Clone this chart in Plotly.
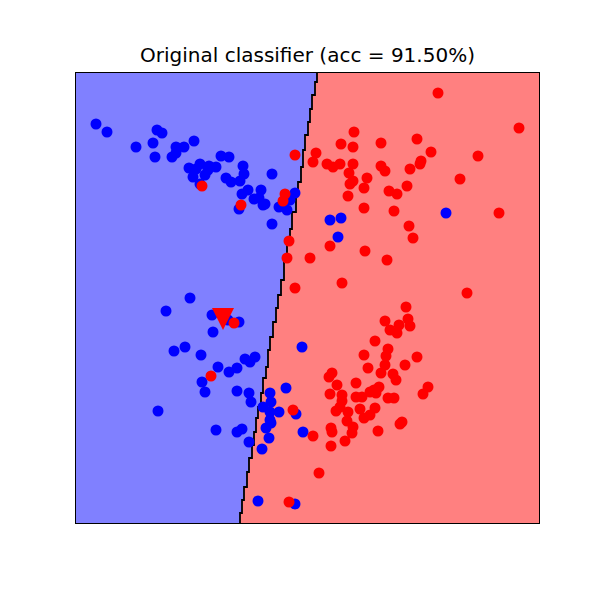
import plotly.graph_objects as go

TITLE = "Original classifier (acc = 91.50%)"

# decision boundary
boundary_x = [242, 240, 237, 235, 233, 230, 228, 226, 223, 221, 217, 215, 212, 209, 206, 203, 201,
              198, 195, 193, 191, 188, 186, 183, 181, 179, 177, 174, 172, 169, 167, 165, 165]
boundary_y = [452, 442, 429, 415, 402, 389, 374, 357, 342, 329, 312, 295, 279, 264, 244, 229, 216,
              202, 187, 174, 157, 146, 131, 117, 106, 92, 79, 66, 52, 37, 24, 11, 0]

blue_x = [21, 32, 61, 82, 87, 78, 80, 119, 101, 109, 101, 97, 114, 125, 121, 134, 141, 133, 130, 118,
          125, 146, 154, 168, 169, 151, 156, 165, 197, 167, 173, 186, 179, 184, 190, 188, 164, 204,
          212, 215, 220, 197, 371, 255, 266, 263, 115, 91, 137, 153, 164, 138, 99, 110, 126, 170,
          180, 175, 143, 162, 154, 127, 130, 162, 174, 176, 195, 196, 211, 227, 188, 83, 141, 162,
          167, 174, 195, 204, 195, 196, 191, 194, 187, 228, 221, 183, 220]
blue_y = [400, 392, 377, 394, 391, 381, 367, 383, 377, 377, 371, 367, 356, 360, 355, 358, 357, 354, 349, 347,
          340, 368, 367, 358, 350, 346, 342, 343, 350, 330, 334, 334, 325, 326, 320, 319, 315, 317,
          314, 324, 331, 300, 311, 304, 306, 287, 226, 213, 209, 204, 202, 192, 173, 177, 169, 165,
          167, 162, 157, 156, 152, 142, 132, 133, 131, 122, 131, 122, 136, 177, 117, 113, 94, 92,
          95, 82, 112, 112, 104, 101, 96, 86, 75, 92, 110, 23, 20]

red_x = [127, 166, 210, 208, 220, 214, 363, 444, 279, 266, 278, 306, 342, 356, 403, 241, 238, 252, 258,
         265, 278, 306, 310, 335, 346, 345, 274, 292, 278, 275, 289, 385, 332, 314, 322, 273, 289,
         319, 424, 334, 338, 255, 290, 312, 235, 212, 220, 267, 392, 159, 136, 218, 238, 244, 214, 256,
         331, 333, 335, 324, 322, 315, 310, 300, 313, 311, 289, 342, 330, 310, 293, 306, 318, 321,
         257, 254, 262, 281, 304, 299, 295, 301, 353, 348, 255, 267, 281, 287, 313, 319, 267, 265,
         261, 285, 300, 273, 295, 289, 272, 278, 256, 257, 277, 303, 327, 325, 270]
red_y = [338, 319, 330, 323, 369, 283, 431, 396, 392, 380, 377, 381, 385, 372, 368, 371, 362, 360, 357,
         360, 360, 358, 353, 355, 363, 360, 351, 346, 343, 340, 336, 345, 338, 333, 330, 328, 316,
         313, 311, 298, 286, 278, 273, 264, 266, 266, 236, 241, 231, 201, 148, 114, 88, 51, 22, 78,
         217, 205, 198, 199, 191, 194, 203, 183, 175, 168, 169, 167, 159, 159, 156, 151, 150, 144,
         151, 147, 139, 141, 137, 134, 132, 131, 137, 130, 130, 129, 127, 127, 126, 126, 123, 117,
         113, 115, 116, 112, 109, 106, 103, 97, 96, 92, 91, 93, 102, 100, 83]

query_x = 148
query_y = 205

BLUE_BG = "#8080ff"
RED_BG = "#ff8080"
DOT_SIZE = 11
TRI_HALF = 11
PAGE_MARGIN = 8  # the browser's body margin shifts the plot by this much

fig = go.Figure()

# blue region is the fill left of the boundary, the plot background is the red one
fig.add_trace(go.Scatter(
    x=boundary_x,
    y=boundary_y,
    mode="lines",
    line=dict(color="black", width=1.8, shape="vh"),
    fill="tozerox",
    fillcolor=BLUE_BG,
    hoverinfo="skip",
))
fig.add_trace(go.Scatter(
    x=blue_x,
    y=blue_y,
    mode="markers",
    marker=dict(color="#0000ff", size=DOT_SIZE),
))
# plotly's triangle markers are too flat, so draw the query point as a polygon
fig.add_trace(go.Scatter(
    x=[query_x - TRI_HALF, query_x + TRI_HALF, query_x, query_x - TRI_HALF],
    y=[query_y + TRI_HALF, query_y + TRI_HALF, query_y - TRI_HALF, query_y + TRI_HALF],
    mode="lines",
    line=dict(color="#ff0000", width=0),
    fill="toself",
    fillcolor="#ff0000",
    hoverinfo="skip",
))
fig.add_trace(go.Scatter(
    x=red_x,
    y=red_y,
    mode="markers",
    marker=dict(color="#ff0000", size=DOT_SIZE),
))

axis_style = dict(
    showgrid=False,
    zeroline=False,
    showticklabels=False,
    ticks="",
    showline=True,
    mirror=True,
    linecolor="black",
    linewidth=1.3,
)
# axis lines sit outside the plot area, so pull it in by a pixel on each side
fig.update_xaxes(range=[1, 464], **axis_style)
fig.update_yaxes(range=[1, 451], **axis_style)

fig.update_layout(
    width=600,
    height=600,
    showlegend=False,
    paper_bgcolor="white",
    plot_bgcolor=RED_BG,
    margin=dict(l=76 - PAGE_MARGIN, r=61 + PAGE_MARGIN, t=73 - PAGE_MARGIN, b=77 + PAGE_MARGIN),
    title=dict(
        text=TITLE,
        x=(307.5 - PAGE_MARGIN) / 600,
        xanchor="center",
        y=1 - (55 - PAGE_MARGIN) / 600,
        yanchor="middle",
        font=dict(family="DejaVu Sans", size=20, color="black"),
    ),
)

fig.write_html("out.html")
